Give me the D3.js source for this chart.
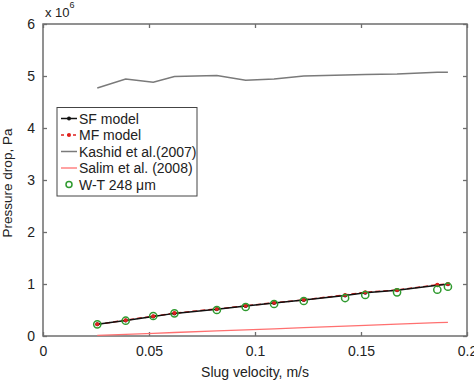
<!DOCTYPE html>
<html>
<head>
<meta charset="utf-8">
<script src="https://cdn.jsdelivr.net/npm/d3@7"></script>
<style>
  body { margin: 0; background: #fff; }
  text { font-family: "Liberation Sans", Arial, sans-serif; fill: #222; }
</style>
</head>
<body>
<svg id="chart"></svg>
<script>
// slug velocity, m/s
var velocity = [0.0256, 0.039, 0.052, 0.062, 0.082, 0.0956, 0.109, 0.123, 0.1425, 0.152, 0.167, 0.186, 0.191];
// pressure drop, x 10^6 Pa
var sfModel = [0.225, 0.30, 0.375, 0.435, 0.515, 0.575, 0.635, 0.69, 0.78, 0.83, 0.88, 0.975, 0.995];
var mfModel = [0.225, 0.305, 0.38, 0.44, 0.52, 0.58, 0.64, 0.695, 0.79, 0.84, 0.885, 0.985, 1.0];
var kashid  = [4.77, 4.94, 4.88, 4.99, 5.01, 4.92, 4.94, 5.0, 5.02, 5.03, 5.04, 5.07, 5.07];
var salim   = [0.013, 0.033, 0.052, 0.067, 0.097, 0.118, 0.138, 0.16, 0.19, 0.205, 0.228, 0.256, 0.263];
var wt248   = [0.225, 0.294, 0.385, 0.436, 0.50, 0.558, 0.615, 0.673, 0.73, 0.788, 0.84, 0.89, 0.948];

var xTicks = [0, 0.05, 0.1, 0.15, 0.2];
var yTicks = [0, 1, 2, 3, 4, 5, 6];
var legendNames = ["SF model", "MF model", "Kashid et al.(2007)", "Salim et al. (2008)", "W-T 248 \u03bcm"];

var width = 474, height = 381;
var margin = {top: 24, right: 7, bottom: 45, left: 43};

var svg = d3.select("#chart").attr("width", width).attr("height", height);

var x = d3.scaleLinear().domain([0, 0.2]).range([margin.left, width - margin.right]);
var y = d3.scaleLinear().domain([0, 6]).range([height - margin.bottom, margin.top]);

var axisColor = "#6e6e6e";

// frame
svg.append("rect")
   .attr("x", x(0)).attr("y", y(6))
   .attr("width", x(0.2) - x(0)).attr("height", y(0) - y(6))
   .attr("fill", "none").attr("stroke", axisColor).attr("stroke-width", 1.5);

function styleAxis(g, noText) {
  g.select(".domain").remove();
  g.selectAll(".tick line").attr("stroke", axisColor).attr("stroke-width", 1.3);
  g.selectAll(".tick text").style("font-size", "14px").attr("fill", "#222");
  if (noText) g.selectAll(".tick text").remove();
}

svg.append("g").attr("transform", "translate(0," + y(0) + ")")
   .call(d3.axisBottom(x).tickValues(xTicks).tickSizeInner(-4).tickPadding(10).tickFormat(d3.format("")))
   .call(styleAxis);
svg.append("g").attr("transform", "translate(0," + y(6) + ")")
   .call(d3.axisTop(x).tickValues(xTicks).tickSizeInner(-4))
   .call(function(g){ styleAxis(g, true); });
svg.append("g").attr("transform", "translate(" + x(0) + ",0)")
   .call(d3.axisLeft(y).tickValues(yTicks).tickSizeInner(-4).tickPadding(8).tickFormat(d3.format("d")))
   .call(styleAxis);
svg.append("g").attr("transform", "translate(" + x(0.2) + ",0)")
   .call(d3.axisRight(y).tickValues(yTicks).tickSizeInner(-4))
   .call(function(g){ styleAxis(g, true); });

// exponent label
var expo = svg.append("text").attr("x", 45).attr("y", 17).style("font-size", "13px");
expo.append("tspan").text("x 10");
expo.append("tspan").attr("dy", -9).style("font-size", "9px").text("6");

// axis titles
svg.append("text").attr("x", (x(0) + x(0.2)) / 2).attr("y", 377)
   .attr("text-anchor", "middle").style("font-size", "14px").text("Slug velocity, m/s");
svg.append("text").attr("transform", "translate(12," + (y(3) + 3) + ") rotate(-90)")
   .attr("text-anchor", "middle").style("font-size", "13.5px").text("Pressure drop, Pa");

var line = d3.line().x(function(d){ return x(d[0]); }).y(function(d){ return y(d[1]); });
var pairs = function(vals){ return velocity.map(function(v, i){ return [v, vals[i]]; }); };

// Kashid
svg.append("path").datum(pairs(kashid)).attr("d", line)
   .attr("fill", "none").attr("stroke", "#7a7a7a").attr("stroke-width", 1.5);
// Salim
svg.append("path").datum(pairs(salim)).attr("d", line)
   .attr("fill", "none").attr("stroke", "#ff7070").attr("stroke-width", 1.3);
// MF model
svg.append("path").datum(pairs(mfModel)).attr("d", line)
   .attr("fill", "none").attr("stroke", "#e0201c").attr("stroke-width", 1.5).attr("stroke-dasharray", "5,3");
// SF model
svg.append("path").datum(pairs(sfModel)).attr("d", line)
   .attr("fill", "none").attr("stroke", "#111").attr("stroke-width", 1.5);
svg.append("g").selectAll("circle").data(pairs(sfModel)).enter().append("circle")
   .attr("cx", function(d){ return x(d[0]); }).attr("cy", function(d){ return y(d[1]); })
   .attr("r", 2).attr("fill", "#111");
svg.append("g").selectAll("circle").data(pairs(mfModel)).enter().append("circle")
   .attr("cx", function(d){ return x(d[0]); }).attr("cy", function(d){ return y(d[1]); })
   .attr("r", 2).attr("fill", "#e0201c");
// W-T 248 um
svg.append("g").selectAll("circle").data(pairs(wt248)).enter().append("circle")
   .attr("cx", function(d){ return x(d[0]); }).attr("cy", function(d){ return y(d[1]); })
   .attr("r", 3.6).attr("fill", "none").attr("stroke", "#2f9a2f").attr("stroke-width", 1.5);

// legend
var lg = svg.append("g").attr("transform", "translate(57,107.5)");
lg.append("rect").attr("width", 140).attr("height", 88.5)
  .attr("fill", "#fff").attr("stroke", "#444").attr("stroke-width", 1);
var rowY = function(i){ return 11 + i * 16.5; };
legendNames.forEach(function(name, i){
  var row = lg.append("g").attr("transform", "translate(0," + rowY(i) + ")");
  if (i === 0) {
    row.append("line").attr("x1", 4).attr("x2", 20).attr("stroke", "#111").attr("stroke-width", 1.5);
    row.append("circle").attr("cx", 12).attr("r", 2).attr("fill", "#111");
  } else if (i === 1) {
    row.append("line").attr("x1", 4).attr("x2", 20).attr("stroke", "#e0201c").attr("stroke-width", 1.5).attr("stroke-dasharray", "3,3");
    row.append("circle").attr("cx", 12).attr("r", 2).attr("fill", "#e0201c");
  } else if (i === 2) {
    row.append("line").attr("x1", 4).attr("x2", 20).attr("stroke", "#7a7a7a").attr("stroke-width", 1.5);
  } else if (i === 3) {
    row.append("line").attr("x1", 4).attr("x2", 20).attr("stroke", "#ff7070").attr("stroke-width", 1.3);
  } else {
    row.append("circle").attr("cx", 12).attr("r", 3).attr("fill", "none").attr("stroke", "#2f9a2f").attr("stroke-width", 1.5);
  }
  row.append("text").attr("x", 22).attr("y", 5).style("font-size", "14px").text(name);
});
</script>
</body>
</html>
